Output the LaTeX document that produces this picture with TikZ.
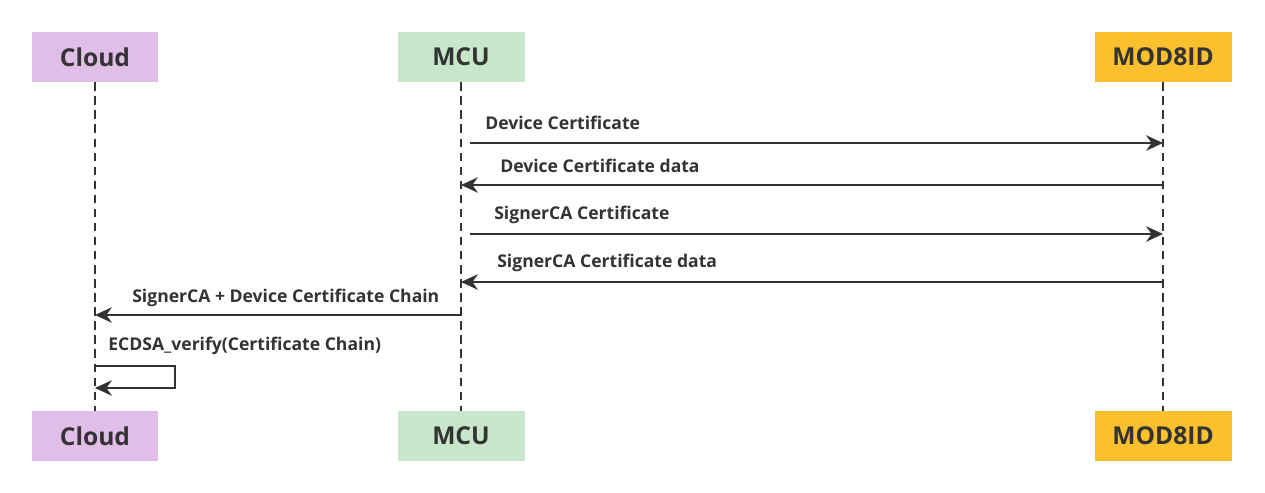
\documentclass[tikz,border=0pt]{standalone}
\usepackage{fontspec}
\setmainfont{Open Sans}
\usetikzlibrary{arrows.meta}
\definecolor{cpur}{HTML}{E1BEE7}
\definecolor{cgrn}{HTML}{C8E6C9}
\definecolor{cyel}{HTML}{FBC02D}
\definecolor{cline}{HTML}{333333}
\begin{document}
\begin{tikzpicture}[x=0.025cm,y=-0.025cm,
  box/.style={minimum width=#1*0.025cm,minimum height=50*0.025cm,inner sep=0,font=\fontsize{17.5}{20}\selectfont\bfseries,text=cline},
  life/.style={dashed,line width=1.4pt,dash pattern=on 6pt off 4pt,cline},
  msg/.style={line width=1.5pt,cline,-{Stealth[length=12pt,width=11pt]}},
  lab/.style={anchor=west,font=\fontsize{12.5}{14}\selectfont\bfseries,text=cline,inner sep=0}]
\useasboundingbox (0,0) rectangle (1265,493);
\node[box=126,fill=cpur] (c1) at (95,57) {Cloud};
\node[box=127,fill=cgrn] (m1) at (461,57) {MCU};
\node[box=137,fill=cyel] (d1) at (1163,57) {MOD8ID};
\node[box=126,fill=cpur] (c2) at (95,436) {Cloud};
\node[box=127,fill=cgrn] (m2) at (461,436) {MCU};
\node[box=137,fill=cyel] (d2) at (1163,436) {MOD8ID};
\draw[life] (c1) -- (c2);
\draw[life] (m1) -- (m2);
\draw[life] (d1) -- (d2);
\coordinate (a1) at (470,143); \coordinate (b1) at (1163,143);
\coordinate (a2) at (1163,185); \coordinate (b2) at (461,185);
\coordinate (a3) at (470,234); \coordinate (b3) at (1163,234);
\coordinate (a4) at (1163,282); \coordinate (b4) at (461,282);
\coordinate (a5) at (461,315); \coordinate (b5) at (95,315);
\coordinate (s1) at (95,366); \coordinate (s2) at (175,366); \coordinate (s3) at (175,388); \coordinate (s4) at (95,388);
\draw[msg] (a1) -- (b1);
\draw[msg] (a2) -- (b2);
\draw[msg] (a3) -- (b3);
\draw[msg] (a4) -- (b4);
\draw[msg] (a5) -- (b5);
\draw[msg] (s1) -- (s2) -- (s3) -- (s4);
\node[lab] (l1) at (485,123) {Device Certificate};
\node[lab] (l2) at (500,166) {Device Certificate data};
\node[lab] (l3) at (494,215) {SignerCA Certificate};
\node[lab] (l4) at (497,263) {SignerCA Certificate data};
\node[lab] (l5) at (132,298) {SignerCA + Device Certificate Chain};
\node[lab] (l6) at (108,346) {ECDSA\_verify(Certificate Chain)};
\end{tikzpicture}
\end{document}
